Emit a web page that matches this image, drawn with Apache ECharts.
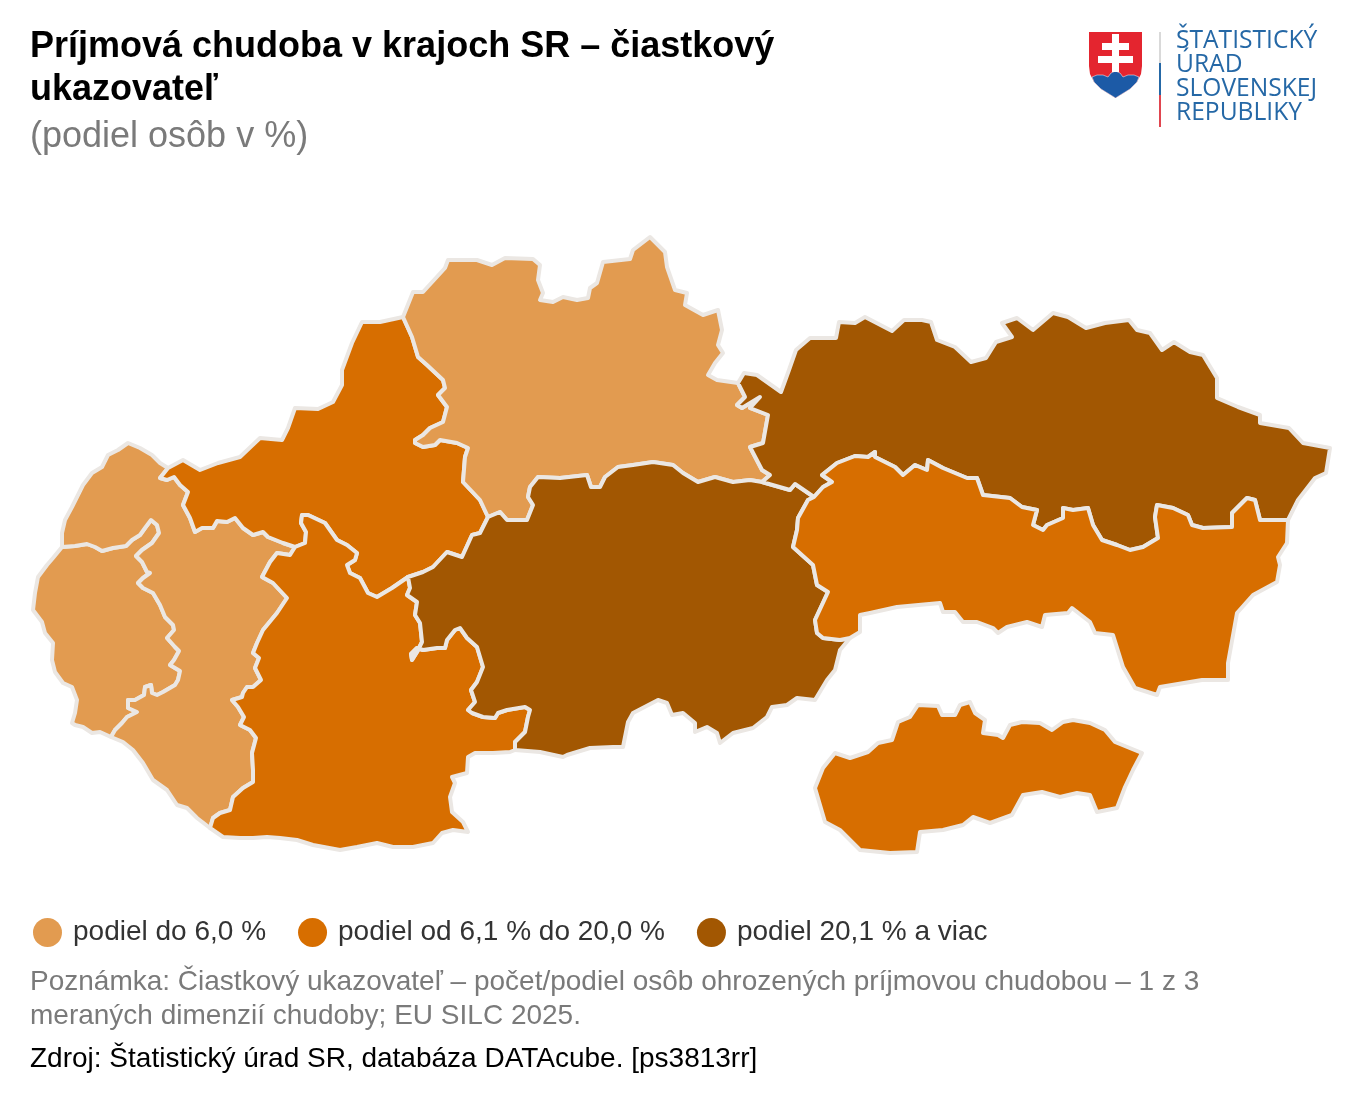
<!DOCTYPE html>
<html>
<head>
<meta charset="utf-8">
<title>Príjmová chudoba v krajoch SR</title>
<script src="https://cdn.jsdelivr.net/npm/echarts@6/dist/echarts.min.js"></script>
<style>
html, body { margin: 0; padding: 0; background: #fff; }
#chart { width: 1362px; height: 1100px; }
</style>
</head>
<body>
<div id="chart"></div>
<script>
// kraje a ich trieda (0 = do 6,0 %, 1 = 6,1 - 20,0 %, 2 = 20,1 % a viac)
var regionNames = ["Bratislavský", "Trnavský", "Trenčiansky", "Nitriansky", "Žilinský", "Banskobystrický", "Prešovský", "Košický", "SR"];
var regionClasses = [0, 0, 1, 1, 0, 2, 2, 1, 1];
var classLabels = ["podiel do 6,0 %", "podiel od 6,1 % do 20,0 %", "podiel 20,1 % a viac"];
var classColors = ["#e29b50", "#d76e00", "#a25702"];

// hranice krajov, spolocne useky su len raz
var baTt = [[62,547],[75,546],[87,544],[95,547],[102,551],[113,548],[126,546],[132,540],[140,535],[145,528],[151,520],[157,525],[159,533],[152,543],[142,550],[136,556],[142,562],[147,572],[150,573],[143,578],[138,583],[143,588],[153,593],[160,605],[165,617],[173,625],[174,630],[167,638],[175,647],[179,651],[174,660],[170,665],[180,671],[178,680],[175,685],[163,692],[157,695],[152,693],[151,685],[145,687],[144,695],[135,700],[128,700],[128,708],[137,712],[127,717],[122,723],[115,730],[111,737]];
var baOuter = [[111,737],[100,732],[92,733],[83,727],[75,725],[72,723],[75,713],[77,700],[72,687],[63,683],[55,672],[52,660],[53,643],[45,633],[42,622],[33,610],[35,593],[38,577],[47,565],[53,558],[62,547]];
var ttNorth = [[62,547],[62,533],[65,520],[72,507],[77,497],[83,485],[92,473],[102,467],[108,455],[118,450],[128,443],[140,448],[152,455],[160,463],[168,468]];
var ttTn = [[168,468],[160,478],[167,480],[174,477],[180,485],[188,492],[183,505],[190,518],[195,532],[202,528],[213,528],[217,521],[227,522],[235,518],[243,528],[253,535],[263,532],[268,537],[283,543],[295,547]];
var ttNr = [[295,547],[290,555],[277,553],[270,562],[262,577],[273,583],[287,598],[277,613],[263,630],[257,643],[253,653],[259,658],[255,668],[261,680],[253,687],[247,687],[243,693],[242,697],[232,700],[238,707],[244,717],[240,725],[250,730],[256,738],[252,753],[253,770],[253,782],[243,788],[233,797],[230,810],[220,813],[213,818],[210,828]];
var ttSouth = [[111,737],[123,742],[133,750],[143,763],[153,780],[167,790],[177,805],[187,808],[197,818],[210,828]];
var nrOuter = [[210,828],[223,837],[240,838],[253,838],[267,837],[280,838],[297,840],[313,845],[340,850],[357,847],[377,843],[393,847],[413,847],[433,843],[442,833],[453,830],[468,832],[463,822],[452,812],[450,797],[455,783],[452,777],[467,773],[468,757],[475,753],[493,753],[510,752],[515,750]];
var nrBb = [[515,750],[515,742],[525,732],[528,717],[530,710],[525,707],[507,710],[498,713],[495,718],[483,717],[472,713],[468,710],[475,702],[471,690],[477,682],[483,667],[477,647],[467,638],[460,628],[455,630],[447,640],[445,648],[437,648],[423,650],[417,648],[411,654],[412,660],[417,652],[422,642],[420,623],[415,615],[417,602],[407,595],[410,588],[408,577]];
var tnNr = [[295,547],[305,543],[306,532],[301,523],[302,515],[308,515],[325,523],[337,540],[347,545],[357,553],[355,560],[347,565],[350,573],[360,578],[368,593],[377,597],[392,588],[408,577]];
var tnBb = [[408,577],[423,572],[433,567],[447,552],[462,557],[472,535],[480,533],[488,517]];
var tnZa = [[488,517],[480,500],[463,482],[465,457],[468,448],[457,443],[440,440],[435,445],[423,447],[415,443],[415,440],[423,435],[430,428],[443,422],[447,407],[438,395],[445,388],[443,380],[427,365],[418,357],[412,337],[403,317]];
var tnOuter = [[168,468],[183,460],[200,470],[218,463],[240,457],[260,438],[282,440],[288,428],[295,408],[318,409],[333,402],[342,385],[342,370],[352,343],[362,322],[380,322],[403,317]];
var zaOuter = [[403,317],[413,292],[423,292],[445,268],[448,260],[460,260],[477,260],[492,265],[505,258],[533,259],[540,265],[538,280],[543,293],[540,300],[553,302],[563,297],[577,300],[588,298],[590,288],[597,283],[603,262],[630,259],[633,250],[650,237],[665,252],[667,267],[675,290],[687,293],[685,305],[703,315],[718,310],[722,330],[718,345],[723,353],[715,363],[708,375],[717,380],[738,383]];
var zaPo = [[738,383],[745,397],[737,405],[742,408],[760,397],[750,408],[768,415],[763,443],[750,447],[762,470],[770,475],[762,482]];
var zaBb = [[488,517],[500,512],[507,520],[527,520],[533,505],[528,497],[530,487],[538,477],[560,478],[587,475],[591,487],[600,487],[605,477],[618,467],[633,465],[653,462],[673,465],[683,473],[698,482],[715,477],[733,482],[750,480],[762,482]];
var bbPo = [[762,482],[790,490],[795,484],[814,497]];
var bbKe = [[814,497],[808,500],[798,518],[797,530],[793,547],[813,565],[817,585],[828,592],[815,620],[817,633],[823,638],[840,640],[850,638]];
var bbOuter = [[850,638],[840,650],[835,670],[827,680],[815,700],[797,698],[787,705],[772,707],[767,717],[753,728],[733,733],[720,743],[717,733],[707,727],[695,732],[695,723],[683,713],[672,715],[667,703],[658,700],[633,713],[628,722],[623,747],[613,747],[590,748],[567,755],[563,757],[540,752],[515,750]];
var poOuter = [[738,383],[744,373],[757,375],[781,392],[789,370],[796,350],[810,338],[836,338],[839,322],[855,323],[865,317],[892,331],[904,320],[922,320],[931,322],[937,340],[955,347],[971,362],[986,358],[996,342],[1012,337],[1002,323],[1017,318],[1033,330],[1053,313],[1068,317],[1086,328],[1105,323],[1129,320],[1137,330],[1150,333],[1162,350],[1174,342],[1190,352],[1203,355],[1217,378],[1217,398],[1238,407],[1260,415],[1260,423],[1289,428],[1303,443],[1330,448],[1326,473],[1315,478],[1298,500],[1288,520]];
var poKe = [[1288,520],[1260,520],[1255,500],[1247,498],[1232,513],[1232,527],[1203,528],[1192,525],[1188,515],[1173,508],[1157,505],[1155,517],[1158,538],[1143,547],[1130,550],[1117,545],[1102,540],[1093,525],[1088,508],[1073,510],[1063,508],[1063,518],[1047,525],[1043,530],[1033,525],[1037,510],[1022,507],[1010,498],[983,495],[977,478],[967,478],[943,468],[928,460],[927,470],[915,465],[903,475],[895,467],[875,457],[875,452],[868,457],[855,456],[837,463],[822,475],[832,482],[823,487],[814,497]];
var keOuter = [[850,638],[860,632],[860,615],[870,613],[897,607],[940,603],[943,612],[955,612],[963,622],[977,622],[993,628],[998,633],[1007,627],[1027,622],[1042,627],[1045,615],[1068,613],[1072,608],[1090,622],[1095,633],[1113,635],[1123,667],[1135,688],[1157,695],[1160,687],[1202,680],[1228,680],[1228,663],[1237,613],[1253,595],[1277,582],[1280,565],[1278,557],[1287,543],[1288,520]];
var srOuter = [[815,788],[823,768],[835,753],[850,758],[868,752],[878,743],[892,740],[898,722],[910,717],[918,705],[938,706],[942,715],[955,715],[960,705],[970,702],[975,713],[985,720],[983,733],[998,735],[1003,738],[1010,725],[1022,722],[1040,723],[1052,730],[1063,722],[1073,720],[1090,723],[1105,730],[1115,742],[1142,753],[1133,770],[1125,787],[1117,808],[1097,812],[1090,795],[1077,793],[1060,797],[1042,792],[1023,795],[1012,815],[990,823],[973,817],[963,825],[943,830],[920,832],[917,852],[890,853],[860,850],[840,830],[825,822],[815,788]];

function rev(arc){
	return arc.slice().reverse();
}
function buildRing(arcs){
	var ring = [];
	for(var i = 0; i < arcs.length; i++){
		for(var j = 0; j < arcs[i].length; j++){
			ring.push([arcs[i][j][0], -arcs[i][j][1]]);
		}
	}
	ring.push(ring[0]);
	return ring;
}

var regionRings = [
	[baTt, baOuter],
	[ttNorth, ttTn, ttNr, rev(ttSouth), rev(baTt)],
	[tnOuter, rev(tnZa), rev(tnBb), rev(tnNr), rev(ttTn)],
	[tnNr, rev(nrBb), rev(nrOuter), rev(ttNr)],
	[zaOuter, zaPo, rev(zaBb), tnZa],
	[tnBb, zaBb, bbPo, bbKe, bbOuter, nrBb],
	[poOuter, poKe, rev(bbPo), rev(zaPo)],
	[keOuter, poKe, bbKe],
	[srOuter]
];

var features = [];
var seriesData = [];
for(var i = 0; i < regionNames.length; i++){
	features.push({
		type: "Feature",
		properties: { name: regionNames[i] },
		geometry: { type: "Polygon", coordinates: [buildRing(regionRings[i])] }
	});
	seriesData.push({ name: regionNames[i], value: regionClasses[i] });
}
echarts.registerMap("krajeSR", { type: "FeatureCollection", features: features });

var pieces = [];
for(var k = 0; k < classLabels.length; k++){
	pieces.push({ value: k, label: classLabels[k], color: classColors[k] });
}

var font = '"Liberation Sans", Arial, sans-serif';
function textTitle(text, left, top, size, color, weight, family, lineHeight){
	return {
		text: text, left: left, top: top, padding: 0,
		textStyle: { fontFamily: family || font, fontSize: size, color: color, fontWeight: weight || "normal", lineHeight: lineHeight || size * 1.2 }
	};
}

var chart = echarts.init(document.getElementById("chart"), null, { renderer: "canvas" });
chart.setOption({
	animation: false,
	backgroundColor: "#ffffff",
	title: [
		textTitle("Príjmová chudoba v krajoch SR – čiastkový\nukazovateľ", 30, 26, 36, "#000000", "bold", null, 43),
		textTitle("(podiel osôb v %)", 30, 115, 36, "#7a7a7a"),
		textTitle("Poznámka: Čiastkový ukazovateľ – počet/podiel osôb ohrozených príjmovou chudobou – 1 z 3\nmeraných dimenzií chudoby; EU SILC 2025.", 30, 965, 28, "#7a7a7a", "normal", null, 34),
		textTitle("Zdroj: Štatistický úrad SR, databáza DATAcube. [ps3813rr]", 30, 1042, 28, "#000000"),
		textTitle("ŠTATISTICKÝ\nÚRAD\nSLOVENSKEJ\nREPUBLIKY", 1176, 29, 24.6, "#2568a6", "normal", '"Open Sans", sans-serif', 24)
	],
	visualMap: {
		type: "piecewise",
		seriesIndex: 0,
		orient: "horizontal",
		left: 33,
		top: 918,
		padding: 0,
		itemWidth: 29,
		itemHeight: 29,
		itemSymbol: "circle",
		itemGap: 32,
		textGap: 11,
		selectedMode: false,
		hoverLink: false,
		showLabel: true,
		pieces: pieces,
		textStyle: { fontFamily: font, fontSize: 28, color: "#333333" }
	},
	series: [{
		type: "map",
		map: "krajeSR",
		roam: false,
		silent: true,
		left: 0,
		top: 0,
		width: 1362,
		height: 1100,
		aspectScale: 1,
		boundingCoords: [[0, 0], [1362, -1100]],
		label: { show: false },
		itemStyle: { borderColor: "#ebe7e3", borderWidth: 4, borderJoin: "round" },
		data: seriesData
	}],
	graphic: [
		// erb
		{ type: "polygon", silent: true, shape: { points: [[1089,32],[1142,32],[1142,66],[1141,74],[1137,82],[1130,89],[1115.5,98],[1101,89],[1094,82],[1090,74],[1089,66]] }, style: { fill: "#e4252f" } },
		{ type: "polygon", silent: true, shape: { points: [[1092,77],[1097,75],[1103,75],[1108,77],[1111,73],[1115.5,71],[1120,73],[1123,77],[1128,75],[1134,75],[1139,77],[1137,82],[1130,89],[1115.5,98],[1101,89],[1094,82]] }, style: { fill: "#1c5aa6", stroke: "#ffffff", lineWidth: 0.5 } },
		{ type: "rect", silent: true, shape: { x: 1112, y: 34, width: 7, height: 38 }, style: { fill: "#ffffff" } },
		{ type: "rect", silent: true, shape: { x: 1102, y: 43, width: 27, height: 7 }, style: { fill: "#ffffff" } },
		{ type: "rect", silent: true, shape: { x: 1098, y: 56, width: 35, height: 7 }, style: { fill: "#ffffff" } },
		// deliaca ciara
		{ type: "rect", silent: true, shape: { x: 1159, y: 32, width: 2, height: 31 }, style: { fill: "#d9d9d9" } },
		{ type: "rect", silent: true, shape: { x: 1159, y: 63, width: 2, height: 32 }, style: { fill: "#2568a6" } },
		{ type: "rect", silent: true, shape: { x: 1159, y: 95, width: 2, height: 32 }, style: { fill: "#e0454f" } }
	]
});
</script>
</body>
</html>
